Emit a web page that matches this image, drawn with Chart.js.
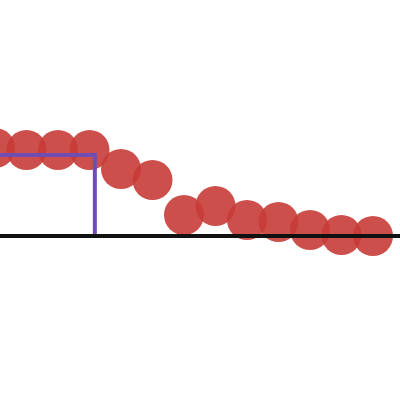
<!DOCTYPE html>
<html>
<head>
<script src="https://cdn.jsdelivr.net/npm/chart.js@4"></script>
<style>html,body{margin:0;padding:0;background:#fff}</style>
</head>
<body>
<div style="width:400px;height:400px"><canvas id="c"></canvas></div>
<script>
const xs = [0, 1, 2, 3, 4, 5, 6, 7, 8, 9, 10, 11, 12];
const dots = [88, 86, 86, 86, 67, 56, 21, 30, 16, 14, 6, 1, 0];
const stepX = [-1, 3.17, 3.17];
const stepY = [81, 81, 0];
const baseX = [-1, 14];
const baseY = [0, 0];

const zip = (a, b) => a.map((v, i) => ({ x: v, y: b[i] }));

new Chart(document.getElementById("c"), {
  type: "scatter",
  data: {
    datasets: [
      {
        type: "line",
        data: zip(baseX, baseY),
        borderColor: "#111",
        borderWidth: 4,
        pointRadius: 0,
        order: 0,
      },
      {
        type: "line",
        data: zip(stepX, stepY),
        borderColor: "#6f4db3",
        borderWidth: 4,
        pointRadius: 0,
        order: 1,
      },
      {
        data: zip(xs, dots),
        backgroundColor: "rgba(200,60,55,0.9)",
        borderWidth: 0,
        pointRadius: 20,
        pointHoverRadius: 20,
        order: 2,
        clip: false,
      },
    ],
  },
  options: {
    responsive: true,
    maintainAspectRatio: false,
    animation: false,
    layout: { padding: 0, autoPadding: false },
    plugins: { legend: { display: false }, tooltip: { enabled: false } },
    scales: {
      x: { type: "linear", display: false, min: 0.159, max: 12.857 },
      y: { display: false, min: -164, max: 236 },
    },
  },
});
</script>
</body>
</html>
